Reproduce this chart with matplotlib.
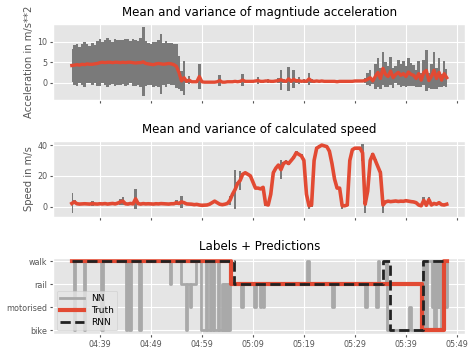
import numpy as np
import matplotlib
matplotlib.use('Agg')
import matplotlib.pyplot as plt
import matplotlib.dates as mdates

plt.style.use('ggplot')

# Time grid: one sample every 30 s starting at 04:33:30
t_start = np.datetime64('2018-01-01T04:33:30')
day0 = np.datetime64('2018-01-01T04:00:00')

# Mean / std of acceleration magnitude (m/s**2)
acc_mean = [
    4.2, 4.3, 4.4, 4.3, 4.5, 4.4, 4.6, 4.5, 4.5, 4.6,
    4.7, 4.9, 5.0, 4.9, 5.0, 5.0, 4.9, 5.0, 5.0, 4.9,
    5.0, 4.9, 5.0, 5.0, 4.9, 4.8, 4.9, 4.9, 5.1, 4.7,
    4.6, 4.5, 4.4, 4.6, 4.7, 4.6, 4.5, 4.6, 4.7, 4.6,
    4.4, 4.0, 2.5, 0.4, 1.2, 0.3, 0.6, 0.2, 0.2, 0.2,
    1.5, 0.2, 0.1, 0.1, 0.1, 0.1, 0.1, 0.2, 0.5, 0.1,
    0.1, 0.2, 0.2, 0.2, 0.3, 0.2, 0.3, 0.6, 0.3, 0.3,
    0.3, 0.3, 0.4, 0.5, 0.3, 0.3, 0.4, 0.4, 0.3, 0.3,
    0.4, 0.5, 0.7, 0.4, 0.3, 0.9, 0.3, 0.8, 0.4, 0.5,
    0.3, 0.4, 0.3, 0.9, 0.4, 0.3, 0.4, 0.3, 0.4, 0.3,
    0.3, 0.3, 0.3, 0.3, 0.2, 0.3, 0.3, 0.3, 0.3, 0.3,
    0.3, 0.4, 0.4, 0.4, 0.4, 0.5, 0.8, 1.2, 0.4, 1.5,
    2.5, 1.0, 3.5, 2.0, 1.5, 2.8, 1.2, 2.0, 2.5, 1.8,
    2.2, 1.5, 2.6, 2.0, 1.8, 1.0, 2.2, 0.6, 2.5, 3.0,
    0.5, 1.5, 3.0, 1.0, 2.5, 0.6, 2.2, 1.2,
]
acc_std = [
    4.0, 5.0, 5.2, 4.5, 5.0, 5.5, 4.8, 4.5, 5.2, 4.6,
    5.5, 5.8, 5.0, 5.5, 6.0, 5.5, 5.2, 5.8, 5.5, 5.6,
    5.4, 5.8, 5.6, 5.2, 5.8, 5.6, 5.4, 6.0, 8.5, 5.6,
    5.2, 5.0, 5.6, 5.4, 5.8, 7.3, 5.2, 5.6, 5.0, 5.2,
    5.0, 5.4, 4.0, 2.5, 4.2, 0.5, 1.0, 0.3, 0.3, 0.2,
    3.0, 0.3, 0.2, 0.2, 0.2, 0.2, 0.2, 0.3, 1.3, 0.2,
    0.2, 0.2, 0.2, 0.2, 0.2, 0.2, 0.3, 1.5, 0.3, 0.2,
    0.2, 0.2, 0.3, 0.8, 0.2, 0.3, 0.3, 0.4, 0.2, 0.2,
    0.3, 0.6, 2.5, 0.4, 0.3, 3.0, 0.4, 2.2, 0.6, 0.8,
    0.2, 0.4, 0.3, 1.4, 0.4, 0.3, 0.3, 0.2, 0.3, 0.2,
    0.2, 0.2, 0.2, 0.2, 0.2, 0.2, 0.2, 0.2, 0.2, 0.2,
    0.2, 0.3, 0.3, 0.3, 0.3, 0.6, 1.5, 2.0, 0.8, 3.0,
    3.5, 2.5, 4.0, 3.0, 2.5, 3.5, 2.5, 2.2, 3.0, 2.8,
    3.0, 2.5, 3.5, 2.8, 2.6, 2.0, 3.2, 1.8, 3.0, 5.0,
    1.8, 3.0, 4.5, 2.5, 3.5, 1.6, 3.0, 2.2,
]

# Mean / std of calculated speed (m/s)
speed_mean = [
    2.0, 3.0, 1.8, 1.6, 1.7, 1.8, 1.7, 1.6, 1.9, 1.7,
    1.6, 1.8, 1.7, 1.9, 1.6, 1.8, 2.0, 1.7, 2.2, 3.0,
    3.5, 1.8, 1.6, 2.0, 1.7, 5.0, 1.9, 1.6, 1.9, 1.7,
    1.8, 1.7, 1.6, 1.8, 1.7, 1.9, 1.8, 1.7, 1.6, 1.8,
    1.8, 2.5, 2.0, 3.0, 2.5, 1.7, 1.6, 1.5, 1.2, 1.4,
    1.0, 0.8, 0.9, 1.0, 1.5, 2.5, 3.5, 2.5, 1.5, 1.2,
    1.5, 2.0, 4.0, 8.0, 11.0, 15.0, 17.0, 21.0, 22.0, 21.0,
    20.0, 16.0, 12.0, 12.0, 11.5, 12.5, 1.5, 1.0, 8.0, 22.0,
    25.0, 27.0, 24.0, 28.0, 29.0, 28.0, 30.0, 32.0, 35.0, 34.0,
    33.0, 30.0, 8.0, 0.5, 1.0, 30.0, 38.0, 39.0, 40.0, 39.5,
    39.0, 36.0, 28.0, 18.0, 12.0, 12.0, 0.5, 0.5, 1.0, 30.0,
    37.0, 38.0, 38.0, 38.0, 35.0, 1.5, 10.0, 30.0, 34.0, 30.0,
    26.0, 22.0, 1.0, 3.0, 3.5, 3.2, 3.4, 3.6, 3.3, 3.5,
    3.4, 3.8, 3.5, 3.2, 3.0, 2.5, 1.0, 0.5, 4.0, 0.8,
    4.5, 1.0, 2.0, 1.5, 2.5, 1.2, 1.0, 1.5,
]
speed_std = [
    6.5, 1.0, 0.3, 0.3, 0.3, 0.3, 0.3, 0.3, 1.5, 0.3,
    0.3, 0.3, 0.3, 0.3, 0.3, 0.3, 0.3, 0.3, 0.3, 2.0,
    2.5, 0.3, 0.3, 0.3, 0.3, 6.5, 0.3, 0.3, 0.3, 0.3,
    0.3, 0.3, 0.3, 0.3, 0.3, 0.3, 0.3, 0.3, 0.3, 0.3,
    0.3, 1.5, 0.3, 3.8, 0.5, 0.3, 0.3, 0.3, 0.3, 0.3,
    0.3, 0.3, 0.3, 0.3, 0.3, 0.3, 0.5, 0.3, 0.3, 0.3,
    0.3, 0.3, 3.0, 1.0, 12.5, 1.0, 6.0, 1.0, 0.5, 0.5,
    0.5, 0.5, 0.5, 0.5, 0.5, 1.0, 1.0, 0.5, 1.0, 1.0,
    1.0, 1.0, 6.0, 1.0, 1.0, 1.0, 1.0, 1.0, 1.0, 1.0,
    1.0, 1.0, 1.0, 2.0, 1.0, 1.0, 1.0, 1.0, 0.5, 0.5,
    0.5, 0.5, 0.5, 0.5, 0.5, 0.5, 2.0, 0.5, 0.5, 1.0,
    0.5, 0.5, 0.5, 0.5, 5.5, 5.5, 1.0, 1.0, 1.0, 1.0,
    1.0, 1.0, 5.0, 0.3, 0.3, 0.3, 0.3, 0.3, 0.3, 0.3,
    0.3, 0.3, 0.3, 0.3, 0.3, 0.3, 0.3, 0.3, 2.0, 0.3,
    1.5, 0.3, 0.3, 0.3, 0.3, 0.3, 0.3, 0.3,
]

# Labels: change points (minutes after 04:00) and class
classes = ['bike', 'motorised', 'rail', 'walk']
truth_min = [33.5, 64.8, 102.1, 106.4, 107.0]
truth_lab = ['walk', 'rail', 'bike', 'walk', 'walk']
rnn_min = [33.5, 65.3, 94.5, 95.9, 102.3, 107.0]
rnn_lab = ['walk', 'rail', 'walk', 'bike', 'walk', 'walk']
nn_min = [
    33.5, 33.9, 34.2, 35.8, 36.1, 39.3, 39.6, 44.1, 44.4, 44.8,
    45.1, 46.7, 47.1, 52.7, 53.0, 55.0, 55.9, 56.1, 56.6, 56.8,
    57.9, 58.9, 59.8, 60.0, 60.5, 60.7, 61.2, 61.4, 62.2, 62.4,
    62.9, 63.1, 63.3, 63.5, 63.7, 63.9, 64.1, 64.3, 64.5, 66.7,
    67.0, 69.3, 69.6, 70.3, 70.6, 70.9, 71.2, 79.7, 80.0, 84.6,
    84.9, 91.0, 91.3, 93.2, 93.5, 93.8, 95.0, 95.3, 99.7, 100.0,
    102.3, 102.6, 102.8, 103.0, 103.2, 104.2, 104.4, 104.6, 104.8, 105.0,
    105.2, 105.4, 105.6, 105.8, 106.0, 106.2, 107.0,
]
nn_lab = [
    'walk', 'bike', 'walk', 'bike', 'walk', 'bike', 'walk', 'bike', 'walk', 'bike',
    'walk', 'bike', 'walk', 'rail', 'walk', 'rail', 'bike', 'rail', 'motorised', 'rail',
    'walk', 'bike', 'walk', 'bike', 'walk', 'bike', 'walk', 'bike', 'walk', 'bike',
    'rail', 'bike', 'rail', 'bike', 'rail', 'bike', 'rail', 'bike', 'rail', 'motorised',
    'rail', 'motorised', 'rail', 'motorised', 'rail', 'motorised', 'rail', 'walk', 'rail', 'motorised',
    'rail', 'motorised', 'rail', 'motorised', 'walk', 'rail', 'walk', 'bike', 'motorised', 'bike',
    'walk', 'bike', 'walk', 'bike', 'walk', 'motorised', 'walk', 'bike', 'walk', 'motorised',
    'walk', 'motorised', 'walk', 'bike', 'walk', 'motorised', 'walk',
]


def to_time(minutes):
    secs = np.round(np.array(minutes) * 60).astype(int)
    return day0 + secs.astype('timedelta64[s]')


def to_idx(labels):
    return [classes.index(l) for l in labels]


t = t_start + (np.arange(len(acc_mean)) * 30).astype('timedelta64[s]')
acc_mean = np.array(acc_mean)
acc_std = np.array(acc_std)
speed_mean = np.array(speed_mean)
speed_std = np.array(speed_std)

plt.rcParams['xtick.major.size'] = 2.2
plt.rcParams['ytick.major.size'] = 2.2
plt.rcParams['xtick.major.pad'] = 2.0
plt.rcParams['ytick.major.pad'] = 2.0

fig, axes = plt.subplots(3, 1, sharex=True, figsize=(4.74, 3.56), dpi=100)
fig.subplots_adjust(left=0.112, right=0.982, top=0.933, bottom=0.062, hspace=0.54)

red = '#E24A33'
title_fs = 8.6
label_fs = 7.2
tick_fs = 5.8

# Acceleration
ax = axes[0]
ax.fill_between(t, acc_mean - acc_std, acc_mean + acc_std, step='mid', color='#7a7a7a', lw=0)
ax.plot(t, acc_mean, color=red, lw=2.4)
ax.set_title('Mean and variance of magntiude acceleration', fontsize=title_fs)
ax.set_ylabel('Acceleration in m/s**2', fontsize=label_fs, labelpad=2)
ax.set_yticks([0, 5, 10])

# Speed
ax = axes[1]
ax.fill_between(t, speed_mean - speed_std, speed_mean + speed_std, step='mid', color='#7a7a7a', lw=0)
ax.plot(t, speed_mean, color=red, lw=2.6)
ax.set_title('Mean and variance of calculated speed', fontsize=title_fs)
ax.set_ylabel('Speed in m/s', fontsize=label_fs, labelpad=2)
ax.set_yticks([0, 20, 40])

# Labels + predictions
ax = axes[2]
ax.step(to_time(nn_min), to_idx(nn_lab), where='post', color='darkgray', lw=2, label='NN')
ax.step(to_time(truth_min), to_idx(truth_lab), where='post', color=red, lw=3, label='Truth')
ax.step(to_time(rnn_min), to_idx(rnn_lab), where='post', color='#222222', lw=2,
        linestyle='--', label='RNN')
ax.set_title('Labels + Predictions', fontsize=title_fs)
ax.set_yticks(range(len(classes)))
ax.set_yticklabels(classes)
ax.legend(loc='lower left', fontsize=6.5, handlelength=2.6, labelspacing=0.3,
          borderaxespad=0.4)

ax.xaxis.set_major_locator(mdates.MinuteLocator(byminute=[9, 19, 29, 39, 49, 59]))
ax.xaxis.set_major_formatter(mdates.DateFormatter('%H:%M'))

for a in axes:
    a.tick_params(labelsize=tick_fs)

fig.savefig('out.png', dpi=100)
